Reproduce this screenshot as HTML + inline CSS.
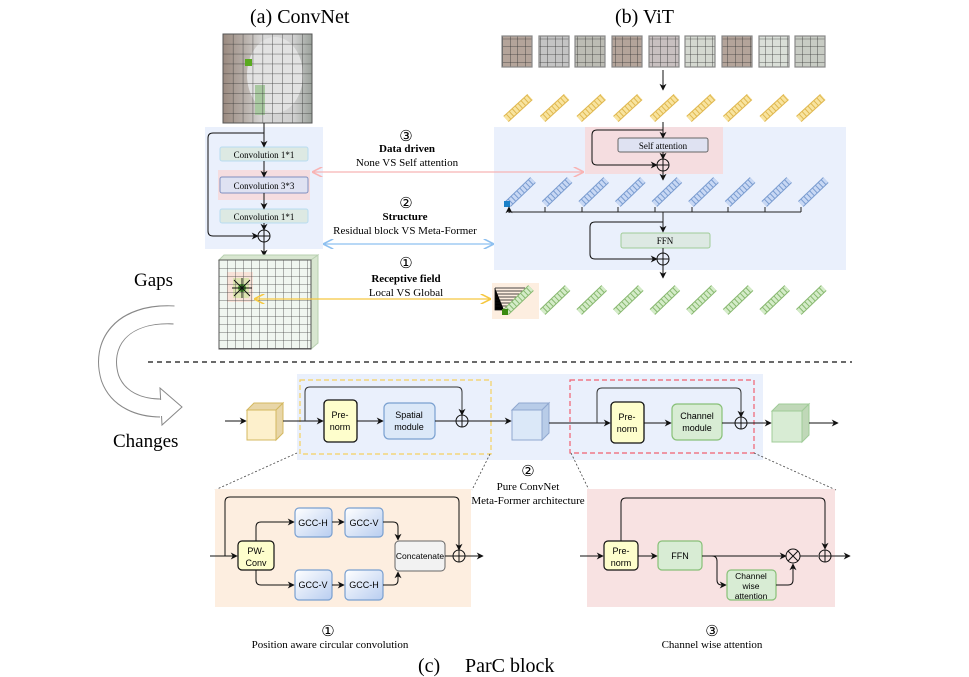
<!DOCTYPE html>
<html><head><meta charset="utf-8"><style>
html,body{margin:0;padding:0;background:#fff}
svg{display:block}
.s{font-family:"Liberation Serif",serif}
.a{font-family:"Liberation Sans",sans-serif}
</style></head><body>
<svg width="969" height="677" viewBox="0 0 969 677" xmlns="http://www.w3.org/2000/svg">
<defs>
<marker id="ar" viewBox="0 0 10 10" refX="9" refY="5" markerWidth="7" markerHeight="7" orient="auto-start-reverse"><path d="M0,0 L10,5 L0,10 L3,5z" fill="#111"/></marker>
<marker id="ap" viewBox="0 0 10 10" refX="9" refY="5" markerWidth="8" markerHeight="8" orient="auto-start-reverse"><path d="M0,0 L10,5 L0,10" fill="none" stroke="#f8b4b4" stroke-width="1.5"/></marker>
<marker id="ab" viewBox="0 0 10 10" refX="9" refY="5" markerWidth="8" markerHeight="8" orient="auto-start-reverse"><path d="M0,0 L10,5 L0,10" fill="none" stroke="#8ec0f0" stroke-width="1.5"/></marker>
<marker id="ay" viewBox="0 0 10 10" refX="9" refY="5" markerWidth="8" markerHeight="8" orient="auto-start-reverse"><path d="M0,0 L10,5 L0,10" fill="none" stroke="#f5c842" stroke-width="1.5"/></marker>
<pattern id="g9" width="9.9" height="9.9" patternUnits="userSpaceOnUse" x="223" y="34"><path d="M0,0 V9.9 M0,0 H9.9" stroke="#333" stroke-width="0.8" fill="none"/></pattern>
<pattern id="gc" width="8" height="8" patternUnits="userSpaceOnUse" x="219" y="260"><path d="M0,0 V8 M0,0 H8" stroke="#444" stroke-width="0.8" fill="none"/></pattern>
<pattern id="gp" width="7.5" height="7.75" patternUnits="userSpaceOnUse"><path d="M0,0 V7.75 M0,0 H7.5" stroke="#333" stroke-width="0.8" fill="none"/></pattern>
<linearGradient id="gb" x1="0" y1="0" x2="1" y2="1"><stop offset="0" stop-color="#fff"/><stop offset="1" stop-color="#b8cdf0"/></linearGradient>
<linearGradient id="kl" x1="0" y1="0" x2="1" y2="0"><stop offset="0" stop-color="#9a8a80"/><stop offset="0.25" stop-color="#b8b0aa"/><stop offset="0.45" stop-color="#d8d8d8"/><stop offset="0.8" stop-color="#cfcfcf"/><stop offset="1" stop-color="#9aa09a"/></linearGradient>
</defs>

<text x="250" y="23" class="s" font-size="20">(a)  ConvNet</text>
<text x="615" y="23" class="s" font-size="20">(b) ViT</text>

<rect x="223" y="34" width="89" height="89" fill="url(#kl)"/>
<ellipse cx="275" cy="75" rx="28" ry="38" fill="#e2e2e2"/>
<rect x="255" y="85" width="10" height="30" fill="#a8c8a0"/>
<rect x="223" y="34" width="89" height="89" fill="url(#g9)" stroke="#555"/>
<rect x="245" y="59" width="7" height="7" fill="#5aaa20"/>

<rect x="205" y="127" width="118" height="122" fill="#eaf0fc"/>
<rect x="218" y="170" width="92" height="30" fill="#f5dde0"/>
<rect x="220" y="147" width="88" height="14" rx="2" fill="#dde9e3" stroke="#b8dcf0"/>
<text x="264" y="158" class="s" font-size="9" text-anchor="middle">Convolution 1*1</text>
<rect x="220" y="177" width="88" height="16" rx="2" fill="#dfe2f2" stroke="#8090c0"/>
<text x="264" y="189" class="s" font-size="9" text-anchor="middle">Convolution 3*3</text>
<rect x="220" y="209" width="88" height="14" rx="2" fill="#dde9e3" stroke="#b8dcf0"/>
<text x="264" y="220" class="s" font-size="9" text-anchor="middle">Convolution 1*1</text>
<g stroke="#111" fill="none" stroke-width="1">
<line x1="264" y1="123" x2="264" y2="147" marker-end="url(#ar)"/>
<line x1="264" y1="161" x2="264" y2="177" marker-end="url(#ar)"/>
<line x1="264" y1="193" x2="264" y2="209" marker-end="url(#ar)"/>
<line x1="264" y1="223" x2="264" y2="230" marker-end="url(#ar)"/>
<path d="M264,133 H213 Q208,133 208,138 V231 Q208,236 213,236 H258" marker-end="url(#ar)"/>
<circle cx="264" cy="236" r="6"/><path d="M258,236 H270 M264,230 V242"/>
<line x1="264" y1="242" x2="264" y2="256" marker-end="url(#ar)"/>
</g>

<polygon points="219,260 224,255 318,255 313,260" fill="#d8e6d0" stroke="#b8d0b0"/>
<polygon points="311,260 318,255 318,343 311,349" fill="#d8e6d0" stroke="#b8d0b0"/>
<rect x="219" y="260" width="92" height="89" fill="#f0f6f0"/>
<rect x="227" y="272" width="26" height="30" fill="#f8e2d8"/>
<rect x="233" y="278" width="16" height="20" fill="#dde4b0"/>
<rect x="219" y="260" width="92" height="89" fill="url(#gc)" stroke="#555"/>
<circle cx="242" cy="288" r="4" fill="#4a9a30"/>
<g stroke="#111" stroke-width="0.9"><path d="M234,280 L250,296 M250,280 L234,296 M242,278 V298 M232,288 H252"/></g>

<g>
<rect x="502" y="36" width="30" height="31" fill="#b4a49a"/><rect x="539" y="36" width="30" height="31" fill="#c4c4c4"/>
<rect x="575" y="36" width="30" height="31" fill="#bcbcb4"/><rect x="612" y="36" width="30" height="31" fill="#b4a49a"/>
<rect x="649" y="36" width="30" height="31" fill="#c8c0c0"/><rect x="685" y="36" width="30" height="31" fill="#d4d8d0"/>
<rect x="722" y="36" width="30" height="31" fill="#b4a49a"/><rect x="759" y="36" width="30" height="31" fill="#dadfd8"/>
<rect x="795" y="36" width="30" height="31" fill="#c8ccc4"/>
<g stroke="#888" stroke-width="1.2">
<rect x="502" y="36" width="30" height="31" fill="url(#gp)"/><rect x="539" y="36" width="30" height="31" fill="url(#gp)"/>
<rect x="575" y="36" width="30" height="31" fill="url(#gp)"/><rect x="612" y="36" width="30" height="31" fill="url(#gp)"/>
<rect x="649" y="36" width="30" height="31" fill="url(#gp)"/><rect x="685" y="36" width="30" height="31" fill="url(#gp)"/>
<rect x="722" y="36" width="30" height="31" fill="url(#gp)"/><rect x="759" y="36" width="30" height="31" fill="url(#gp)"/>
<rect x="795" y="36" width="30" height="31" fill="url(#gp)"/>
</g></g>
<line x1="663" y1="70" x2="663" y2="90" stroke="#111" marker-end="url(#ar)"/>

<g>
<g id="yt"><line x1="506" y1="119" x2="530" y2="97" stroke="#e0b850" stroke-width="8"/><line x1="506" y1="119" x2="530" y2="97" stroke="#f8e4a0" stroke-width="6" stroke-dasharray="3 1"/></g>
<use href="#yt" x="36.6"/><use href="#yt" x="73.2"/><use href="#yt" x="109.8"/><use href="#yt" x="146.4"/><use href="#yt" x="183"/><use href="#yt" x="219.6"/><use href="#yt" x="256.2"/><use href="#yt" x="292.8"/>
</g>

<rect x="494" y="127" width="352" height="143" fill="#eaf0fc"/>
<rect x="585" y="127" width="138" height="47" fill="#f5dde0"/>
<rect x="618" y="138" width="90" height="14" rx="2" fill="#dfe2f2" stroke="#666"/>
<text x="663" y="149" class="s" font-size="9" text-anchor="middle">Self attention</text>
<g stroke="#111" fill="none">
<line x1="663" y1="122" x2="663" y2="138" marker-end="url(#ar)"/>
<line x1="663" y1="152" x2="663" y2="159" marker-end="url(#ar)"/>
<path d="M663,130 H597 Q592,130 592,135 V160 Q592,165 597,165 H657" marker-end="url(#ar)"/>
<circle cx="663" cy="165" r="6"/><path d="M657,165 H669 M663,159 V171"/>
<line x1="663" y1="171" x2="663" y2="180" marker-end="url(#ar)"/>
</g>
<g>
<g id="bt"><line x1="508" y1="204" x2="533" y2="180" stroke="#7a9cd0" stroke-width="8"/><line x1="508" y1="204" x2="533" y2="180" stroke="#c8d8f4" stroke-width="6" stroke-dasharray="3 1"/></g>
<use href="#bt" x="36.6"/><use href="#bt" x="73.2"/><use href="#bt" x="109.8"/><use href="#bt" x="146.4"/><use href="#bt" x="183"/><use href="#bt" x="219.6"/><use href="#bt" x="256.2"/><use href="#bt" x="292.8"/>
<rect x="504" y="201" width="6" height="6" fill="#1a80c8"/>
</g>
<g stroke="#222" fill="none">
<line x1="509" y1="212" x2="801" y2="212"/>
<path d="M545,207V212 M582,207V212 M618,207V212 M655,207V212 M692,207V212 M728,207V212 M765,207V212 M801,207V212"/>
<line x1="509" y1="213" x2="509" y2="207" marker-end="url(#ar)"/>
<line x1="663" y1="212" x2="663" y2="232" marker-end="url(#ar)"/>
</g>
<rect x="621" y="233" width="89" height="15" rx="2" fill="#dde9e3" stroke="#a0cc98"/>
<text x="665" y="244" class="s" font-size="9" text-anchor="middle">FFN</text>
<g stroke="#111" fill="none">
<line x1="663" y1="248" x2="663" y2="253" />
<path d="M663,222 H595 Q590,222 590,227 V254 Q590,259 595,259 H657" marker-end="url(#ar)"/>
<circle cx="663" cy="259" r="6"/><path d="M657,259 H669 M663,253 V265"/>
<line x1="663" y1="265" x2="663" y2="278" marker-end="url(#ar)"/>
</g>
<rect x="492" y="283" width="47" height="36" fill="#fdeee0"/>
<g stroke="#111" stroke-width="0.8"><path d="M495,288H525 M495,291H523 M495,294H520 M495,297H517 M495,300H514 M495,303H511 M495,306H508 M495,288V310 H504"/></g>
<g>
<g id="gt"><line x1="506" y1="312" x2="531" y2="288" stroke="#88b870" stroke-width="8"/><line x1="506" y1="312" x2="531" y2="288" stroke="#d4ecc8" stroke-width="6" stroke-dasharray="3 1"/></g>
<use href="#gt" x="36.6"/><use href="#gt" x="73.2"/><use href="#gt" x="109.8"/><use href="#gt" x="146.4"/><use href="#gt" x="183"/><use href="#gt" x="219.6"/><use href="#gt" x="256.2"/><use href="#gt" x="292.8"/>
<rect x="502" y="309" width="6" height="6" fill="#3a8a10"/>
</g>

<line x1="313" y1="172" x2="583" y2="172" stroke="#f8b4b4" stroke-width="1.3" marker-start="url(#ap)" marker-end="url(#ap)"/>
<line x1="324" y1="244" x2="493" y2="244" stroke="#8ec0f0" stroke-width="1.3" marker-start="url(#ab)" marker-end="url(#ab)"/>
<line x1="255" y1="299" x2="490" y2="299" stroke="#f5c842" stroke-width="1.3" marker-start="url(#ay)" marker-end="url(#ay)"/>
<g class="s" text-anchor="middle">
<text x="406" y="141" font-size="15">③</text>
<text x="407" y="152" font-size="11" font-weight="bold">Data driven</text>
<text x="407" y="166" font-size="11">None VS Self attention</text>
<text x="406" y="208" font-size="15">②</text>
<text x="405" y="220" font-size="11" font-weight="bold">Structure</text>
<text x="405" y="234" font-size="11">Residual block VS Meta-Former</text>
<text x="406" y="268" font-size="15">①</text>
<text x="406" y="282" font-size="11" font-weight="bold">Receptive field</text>
<text x="406" y="296" font-size="11">Local VS Global</text>
</g>

<text x="134" y="286" class="s" font-size="19">Gaps</text>
<text x="113" y="447" class="s" font-size="19">Changes</text>
<path d="M174,315 C120,312 100,345 110,378 C118,400 140,408 160,408" fill="none" stroke="#888" stroke-width="19"/>
<path d="M176,315 C120,312 100,345 110,378 C118,400 140,408 162,408" fill="none" stroke="#fff" stroke-width="17"/>
<polygon points="160,388 182,407 162,425" fill="#fff" stroke="#888" stroke-width="1"/>
<line x1="161" y1="400" x2="161" y2="416" stroke="#fff" stroke-width="3"/>

<line x1="148" y1="362" x2="852" y2="362" stroke="#111" stroke-width="1.2" stroke-dasharray="5 4"/>

<rect x="297" y="374" width="466" height="86" fill="#eaf0fc"/>
<rect x="300" y="380" width="191" height="74" fill="none" stroke="#f5d060" stroke-width="1.2" stroke-dasharray="5 3"/>
<rect x="570" y="380" width="184" height="73" fill="none" stroke="#f06070" stroke-width="1.2" stroke-dasharray="5 3"/>
<polygon points="247,410 254,403 283,403 276,410" fill="#e8d6a8" stroke="#d4b860"/>
<polygon points="276,410 283,403 283,433 276,440" fill="#e8d6a8" stroke="#d4b860"/>
<rect x="247" y="410" width="29" height="30" fill="#fdf0cc" stroke="#d4b860"/>
<polygon points="512,410 519,403 549,403 542,410" fill="#b8cce8" stroke="#90a8d0"/>
<polygon points="542,410 549,403 549,433 542,440" fill="#b8cce8" stroke="#90a8d0"/>
<rect x="512" y="410" width="30" height="30" fill="#dbe8f8" stroke="#90a8d0"/>
<polygon points="772,411 779,404 809,404 802,411" fill="#c0d8b8" stroke="#a0cc98"/>
<polygon points="802,411 809,404 809,435 802,442" fill="#c0d8b8" stroke="#a0cc98"/>
<rect x="772" y="411" width="30" height="31" fill="#d8ecd4" stroke="#a0cc98"/>

<rect x="324" y="400" width="33" height="42" rx="4" fill="#fefecc" stroke="#111" stroke-width="1.3"/>
<text x="340" y="418" class="a" font-size="9" text-anchor="middle">Pre-</text>
<text x="340" y="430" class="a" font-size="9" text-anchor="middle">norm</text>
<rect x="384" y="403" width="51" height="36" rx="5" fill="#dbe8f8" stroke="#7aa0d0" stroke-width="1.2"/>
<text x="409" y="418" class="a" font-size="9" text-anchor="middle">Spatial</text>
<text x="409" y="430" class="a" font-size="9" text-anchor="middle">module</text>
<rect x="611" y="402" width="33" height="41" rx="4" fill="#fefecc" stroke="#111" stroke-width="1.3"/>
<text x="627" y="420" class="a" font-size="9" text-anchor="middle">Pre-</text>
<text x="627" y="432" class="a" font-size="9" text-anchor="middle">norm</text>
<rect x="672" y="404" width="50" height="36" rx="5" fill="#d8ecd4" stroke="#88c078" stroke-width="1.2"/>
<text x="697" y="419" class="a" font-size="9" text-anchor="middle">Channel</text>
<text x="697" y="431" class="a" font-size="9" text-anchor="middle">module</text>
<g stroke="#111" fill="none">
<line x1="225" y1="421" x2="246" y2="421" marker-end="url(#ar)"/>
<line x1="283" y1="421" x2="323" y2="421" marker-end="url(#ar)"/>
<line x1="357" y1="421" x2="383" y2="421" marker-end="url(#ar)"/>
<line x1="435" y1="421" x2="456" y2="421"/>
<path d="M305,421 V392 Q305,387 310,387 H457 Q462,387 462,392 V415" stroke="#333" marker-end="url(#ar)"/>
<circle cx="462" cy="421" r="6"/><path d="M456,421 H468 M462,415 V427"/>
<line x1="468" y1="421" x2="511" y2="421" marker-end="url(#ar)"/>
<line x1="549" y1="423" x2="610" y2="423" marker-end="url(#ar)"/>
<line x1="644" y1="423" x2="671" y2="423" marker-end="url(#ar)"/>
<line x1="722" y1="423" x2="735" y2="423"/>
<path d="M597,423 V393 Q597,388 602,388 H736 Q741,388 741,393 V417" stroke="#333" marker-end="url(#ar)"/>
<circle cx="741" cy="423" r="6"/><path d="M735,423 H747 M741,417 V429"/>
<line x1="747" y1="423" x2="771" y2="423" marker-end="url(#ar)"/>
<line x1="809" y1="423" x2="838" y2="423" marker-end="url(#ar)"/>
</g>
<g stroke="#444" stroke-width="0.8" stroke-dasharray="2 2">
<line x1="297" y1="453" x2="215" y2="490"/><line x1="490" y1="454" x2="472" y2="490"/>
<line x1="571" y1="453" x2="589" y2="490"/><line x1="754" y1="453" x2="836" y2="490"/>
</g>
<g class="s" text-anchor="middle">
<text x="528" y="476" font-size="15">②</text>
<text x="528" y="490" font-size="11">Pure ConvNet</text>
<text x="528" y="504" font-size="11">Meta-Former architecture</text>
</g>

<rect x="215" y="489" width="256" height="118" fill="#fdeee0"/>
<rect x="238" y="541" width="36" height="29" rx="4" fill="#fefecc" stroke="#111" stroke-width="1.2"/>
<text x="256" y="554" class="a" font-size="9" text-anchor="middle">PW-</text>
<text x="256" y="566" class="a" font-size="9" text-anchor="middle">Conv</text>
<g stroke="#7aa0d0" stroke-width="1.2" fill="url(#gb)">
<rect x="295" y="508" width="37" height="29" rx="4"/><rect x="345" y="508" width="38" height="29" rx="4"/>
<rect x="295" y="570" width="37" height="30" rx="4"/><rect x="345" y="570" width="38" height="30" rx="4"/>
</g>
<g class="a" font-size="9" text-anchor="middle">
<text x="313" y="526">GCC-H</text><text x="364" y="526">GCC-V</text>
<text x="313" y="588">GCC-V</text><text x="364" y="588">GCC-H</text>
</g>
<rect x="395" y="541" width="50" height="30" rx="4" fill="#f2f2f2" stroke="#666"/>
<text x="420" y="559" class="a" font-size="8.5" text-anchor="middle">Concatenate</text>
<g stroke="#111" fill="none">
<line x1="210" y1="556" x2="237" y2="556" marker-end="url(#ar)"/>
<path d="M225,556 V502 Q225,497 230,497 H454 Q459,497 459,502 V550" marker-end="url(#ar)"/>
<path d="M256,541 V527 Q256,522 261,522 H294" marker-end="url(#ar)"/>
<path d="M256,570 V580 Q256,585 261,585 H294" marker-end="url(#ar)"/>
<line x1="332" y1="522" x2="344" y2="522" marker-end="url(#ar)"/>
<line x1="332" y1="585" x2="344" y2="585" marker-end="url(#ar)"/>
<path d="M383,522 H393 Q398,522 398,527 V540" marker-end="url(#ar)"/>
<path d="M383,585 H393 Q398,585 398,580 V572" marker-end="url(#ar)"/>
<line x1="445" y1="556" x2="453" y2="556"/>
<circle cx="459" cy="556" r="6"/><path d="M453,556 H465 M459,550 V562"/>
<line x1="465" y1="556" x2="483" y2="556" marker-end="url(#ar)"/>
</g>

<rect x="587" y="489" width="248" height="118" fill="#f8e2e2"/>
<rect x="604" y="541" width="34" height="29" rx="4" fill="#fefecc" stroke="#111" stroke-width="1.2"/>
<text x="621" y="554" class="a" font-size="9" text-anchor="middle">Pre-</text>
<text x="621" y="566" class="a" font-size="9" text-anchor="middle">norm</text>
<rect x="658" y="541" width="44" height="29" rx="4" fill="#d8ecd4" stroke="#88c078" stroke-width="1.2"/>
<text x="680" y="559" class="a" font-size="9" text-anchor="middle">FFN</text>
<rect x="727" y="570" width="49" height="30" rx="4" fill="#d8ecd4" stroke="#88c078" stroke-width="1.2"/>
<text x="751" y="579" class="a" font-size="8.5" text-anchor="middle">Channel</text>
<text x="751" y="589" class="a" font-size="8.5" text-anchor="middle">wise</text>
<text x="751" y="599" class="a" font-size="8.5" text-anchor="middle">attention</text>
<g stroke="#111" fill="none">
<line x1="580" y1="556" x2="603" y2="556" marker-end="url(#ar)"/>
<line x1="638" y1="556" x2="657" y2="556" marker-end="url(#ar)"/>
<line x1="702" y1="556" x2="786" y2="556" marker-end="url(#ar)"/>
<path d="M712,556 Q717,556 717,561 V580 Q717,585 722,585 H726" marker-end="url(#ar)"/>
<path d="M776,585 H788 Q793,585 793,580 V564" marker-end="url(#ar)"/>
<circle cx="793" cy="556" r="7"/><path d="M788,551 L798,561 M798,551 L788,561"/>
<line x1="800" y1="556" x2="818" y2="556"/>
<path d="M621,541 V503 Q621,498 626,498 H820 Q825,498 825,503 V549" marker-end="url(#ar)"/>
<circle cx="825" cy="556" r="6"/><path d="M819,556 H831 M825,550 V562"/>
<line x1="831" y1="556" x2="850" y2="556" marker-end="url(#ar)"/>
</g>

<g class="s" text-anchor="middle">
<text x="328" y="636" font-size="15">①</text>
<text x="330" y="648" font-size="11">Position aware circular convolution</text>
<text x="712" y="636" font-size="15">③</text>
<text x="712" y="648" font-size="11">Channel wise attention</text>
</g>
<text x="418" y="672" class="s" font-size="20">(c)</text>
<text x="465" y="672" class="s" font-size="20">ParC block</text>
</svg>
</body></html>
